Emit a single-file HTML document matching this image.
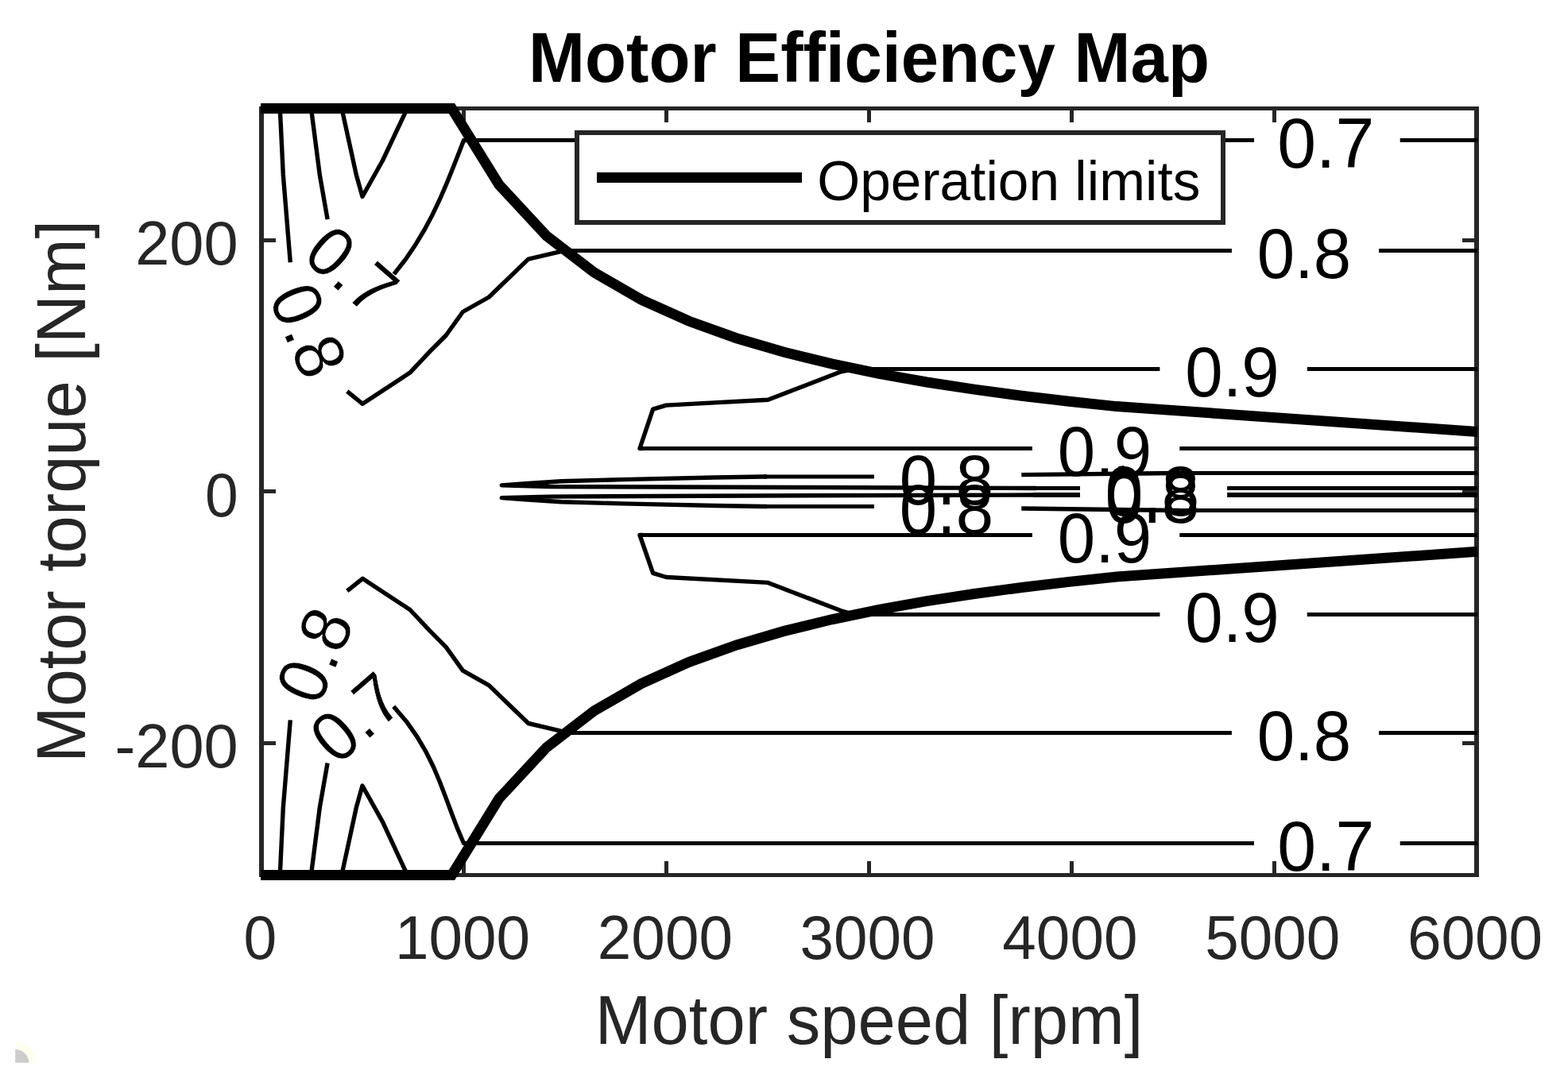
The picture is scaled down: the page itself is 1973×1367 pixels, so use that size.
<!DOCTYPE html>
<html lang="en"><head><meta charset="utf-8"><title>Motor Efficiency Map</title>
<style>html,body{margin:0;padding:0;background:#fff;}body{width:1973px;height:1367px;overflow:hidden;}svg{display:block;}text{font-family:"Liberation Sans",Arial,Helvetica,sans-serif;}</style>
</head><body>
<svg width="1973" height="1367" viewBox="0 0 1973 1367">
<rect width="1973" height="1367" fill="#fff"/>
<path d="M19.2,1311.2 A27,27 0 0 1 46.4,1337.8 L19.2,1337.8 Z" fill="#fffff0"/>
<path d="M19.2,1321 A17.5,17.5 0 0 1 36.6,1337.8 L19.2,1337.8 Z" fill="#cccccc"/>
<g shape-rendering="crispEdges">
<rect x="326" y="134" width="1535" height="5" fill="#262626"/>
<rect x="326" y="1099" width="1535" height="5" fill="#262626"/>
<rect x="326" y="134" width="6" height="970" fill="#262626"/>
<rect x="1855" y="134" width="6" height="970" fill="#262626"/>
<rect x="581" y="134" width="5" height="20" fill="#262626"/>
<rect x="581" y="1084" width="5" height="20" fill="#262626"/>
<rect x="836" y="134" width="5" height="20" fill="#262626"/>
<rect x="836" y="1084" width="5" height="20" fill="#262626"/>
<rect x="1091" y="134" width="5" height="20" fill="#262626"/>
<rect x="1091" y="1084" width="5" height="20" fill="#262626"/>
<rect x="1346" y="134" width="5" height="20" fill="#262626"/>
<rect x="1346" y="1084" width="5" height="20" fill="#262626"/>
<rect x="1601" y="134" width="5" height="20" fill="#262626"/>
<rect x="1601" y="1084" width="5" height="20" fill="#262626"/>
<rect x="326" y="300" width="21" height="5" fill="#262626"/>
<rect x="1840" y="300" width="21" height="5" fill="#262626"/>
<rect x="326" y="616" width="21" height="5" fill="#262626"/>
<rect x="1840" y="616" width="21" height="5" fill="#262626"/>
<rect x="326" y="933" width="21" height="5" fill="#262626"/>
<rect x="1840" y="933" width="21" height="5" fill="#262626"/>
</g>
<g fill="#000" font-size="88.5">
<text transform="translate(422.6,363.3) rotate(41.0) scale(0.95,1)" text-anchor="start" x="-62.0 -12.3 12.8" y="0" stroke="#fff" stroke-width="0.5">0.7</text>
<text transform="translate(360.1,427.7) rotate(67.0) scale(0.95,1)" text-anchor="start" x="-62.0 -12.3 12.8" y="0" stroke="#fff" stroke-width="0.5">0.8</text>
<text transform="translate(468.3,926.4) rotate(-41.0) scale(0.95,1)" text-anchor="start" x="-62.0 -12.3 12.8" y="0" stroke="#fff" stroke-width="0.5">0.7</text>
<text transform="translate(424.0,836.6) rotate(-67.0) scale(0.95,1)" text-anchor="start" x="-62.0 -12.3 12.8" y="0" stroke="#fff" stroke-width="0.5">0.8</text>
</g>
<g fill="none" stroke="#000" stroke-width="5.4" stroke-linejoin="round" stroke-linecap="butt">
<polyline points="352.3,136.3 356.3,220.0 365.3,330.2"/>
<polyline points="391.5,136.3 402.3,220.0 412.1,276.1"/>
<polyline points="430.0,136.3 448.3,220.0 456.0,247.5 481.5,202.0 512.5,136.3"/>
<polyline points="495.7,345.2 510.3,326.5 523.0,307.7 534.2,289.0 544.2,270.2 553.1,251.5 561.3,232.7 568.9,214.0 576.3,195.2 583.6,176.5 587.6,176.5"/>
<polyline points="436.8,492.7 456.2,508.3 515.9,469.1 541.2,442.2 561.3,422.0 582.4,392.5 615.2,374.0 664.8,326.1 704.4,316.8 712.0,315.5 716.0,315.5"/>
<polyline points="809.0,564.5 805.0,564.5 821.6,515.2 838.2,510.1 966.3,503.2 1058.4,467.8 1075.0,464.5 1079.0,464.5"/>
<polyline points="965.0,600.0 961.0,600.0 900.0,601.0 782.5,603.6 706.4,605.8 660.8,608.8 631.2,610.9 691.0,612.5 1000.0,613.5 1300.0,614.5 1304.0,614.5"/>
<polyline points="1285.3,597.6 1480.0,595.5 1484.0,595.5"/>
<polyline points="352.3,1101.2 356.3,1016.6 365.3,906.4"/>
<polyline points="391.5,1101.2 402.3,1016.6 412.1,960.5"/>
<polyline points="430.0,1101.2 448.3,1016.6 456.0,989.1 481.5,1034.6 512.5,1101.2"/>
<polyline points="436.8,743.9 456.2,728.3 515.9,767.5 541.2,794.4 561.3,814.6 582.4,844.1 615.2,862.6 664.8,910.5 704.4,919.8 712.0,922.5 716.0,922.5"/>
<polyline points="809.0,673.5 805.0,673.5 821.6,721.4 838.2,726.5 966.3,733.4 1058.4,768.8 1075.0,773.5 1079.0,773.5"/>
<polyline points="495.2,889.3 511.6,908.4 525.0,927.6 536.2,946.7 545.6,965.8 553.7,985.0 561.0,1004.1 568.1,1023.2 575.4,1042.4 583.5,1061.5 587.5,1061.5"/>
<polyline points="965.0,637.5 961.0,637.5 900.0,636.5 782.5,633.9 706.4,631.7 660.8,628.7 631.2,626.6 691.0,625.1 945.0,624.0 1300.0,623.0 1304.0,623.0"/>
<polyline points="1285.3,640.0 1480.0,642.5 1484.0,642.5"/>
</g>
<g fill="none" stroke="#000" stroke-linecap="butt">
<line x1="583.6" y1="176.5" x2="1578.0" y2="176.5" stroke-width="5.0"/>
<line x1="1761.7" y1="176.5" x2="1859.0" y2="176.5" stroke-width="5.0"/>
<line x1="712.0" y1="315.5" x2="1549.9" y2="315.5" stroke-width="5.0"/>
<line x1="1735.1" y1="315.5" x2="1859.0" y2="315.5" stroke-width="5.0"/>
<line x1="1298.9" y1="564.5" x2="805.0" y2="564.5" stroke-width="5.0"/>
<line x1="1075.0" y1="464.5" x2="1459.4" y2="464.5" stroke-width="5.0"/>
<line x1="1644.8" y1="464.5" x2="1859.0" y2="464.5" stroke-width="5.0"/>
<line x1="1484.3" y1="564.5" x2="1859.0" y2="564.5" stroke-width="5.0"/>
<line x1="1099.9" y1="600.0" x2="961.0" y2="600.0" stroke-width="5.0"/>
<line x1="1300.0" y1="614.5" x2="1359.0" y2="614.5" stroke-width="5.0"/>
<line x1="1480.0" y1="595.5" x2="1859.0" y2="595.5" stroke-width="5.0"/>
<line x1="1544.1" y1="614.5" x2="1859.0" y2="614.5" stroke-width="5.0"/>
<line x1="1761.7" y1="1061.5" x2="1859.0" y2="1061.5" stroke-width="5.0"/>
<line x1="712.0" y1="922.5" x2="1549.9" y2="922.5" stroke-width="5.0"/>
<line x1="1735.1" y1="922.5" x2="1859.0" y2="922.5" stroke-width="5.0"/>
<line x1="1298.9" y1="673.5" x2="805.0" y2="673.5" stroke-width="5.0"/>
<line x1="1075.0" y1="773.5" x2="1459.4" y2="773.5" stroke-width="5.0"/>
<line x1="1644.8" y1="773.5" x2="1859.0" y2="773.5" stroke-width="5.0"/>
<line x1="1484.3" y1="673.5" x2="1859.0" y2="673.5" stroke-width="5.0"/>
<line x1="583.5" y1="1061.5" x2="1578.0" y2="1061.5" stroke-width="5.0"/>
<line x1="1099.9" y1="637.5" x2="961.0" y2="637.5" stroke-width="5.0"/>
<line x1="1300.0" y1="623.0" x2="1359.0" y2="623.0" stroke-width="6.0"/>
<line x1="1480.0" y1="642.5" x2="1859.0" y2="642.5" stroke-width="5.0"/>
<line x1="1544.1" y1="623.0" x2="1859.0" y2="623.0" stroke-width="6.0"/>
</g>
<g fill="none" stroke="#000" stroke-width="13.0" stroke-linejoin="miter" stroke-linecap="butt">
<polyline points="328.0,136.5 568.5,136.5 627.9,232.5 687.7,296.9 747.5,342.9 807.3,377.4 867.1,404.3 926.8,425.7 986.6,443.3 1046.4,457.9 1106.2,470.3 1166.0,481.0 1225.8,490.2 1285.5,498.2 1345.3,505.3 1405.1,511.6 1859.0,543.5"/>
<polyline points="328.0,1101.5 568.5,1101.5 627.9,1005.2 687.7,940.8 747.5,894.8 807.3,860.3 867.1,833.4 926.8,812.0 986.6,794.4 1046.4,779.8 1106.2,767.4 1166.0,756.7 1225.8,747.5 1285.5,739.5 1345.3,732.4 1405.1,726.1 1859.0,694.2"/>
</g>
<g fill="#000" font-size="88.5" text-anchor="middle">
<text x="1668.3" y="211.2" textLength="122.0" lengthAdjust="spacingAndGlyphs">0.7</text>
<text x="1640.9" y="350.2" textLength="118.5" lengthAdjust="spacingAndGlyphs">0.8</text>
<text x="1550.5" y="499.2" textLength="118.5" lengthAdjust="spacingAndGlyphs">0.9</text>
<text x="1390.0" y="599.2" textLength="118.5" lengthAdjust="spacingAndGlyphs">0.9</text>
<text x="1190.9" y="634.7" textLength="118.5" lengthAdjust="spacingAndGlyphs">0.8</text>
<text x="1449.9" y="649.2" textLength="118.5" lengthAdjust="spacingAndGlyphs">0.8</text>
<text x="1449.9" y="657.9" textLength="118.5" lengthAdjust="spacingAndGlyphs">0.8</text>
<text x="1190.9" y="672.4" textLength="118.5" lengthAdjust="spacingAndGlyphs">0.8</text>
<text x="1390.0" y="708.2" textLength="118.5" lengthAdjust="spacingAndGlyphs">0.9</text>
<text x="1550.5" y="808.2" textLength="118.5" lengthAdjust="spacingAndGlyphs">0.9</text>
<text x="1640.9" y="957.2" textLength="118.5" lengthAdjust="spacingAndGlyphs">0.8</text>
<text x="1668.3" y="1096.2" textLength="122.0" lengthAdjust="spacingAndGlyphs">0.7</text>
</g>
<g fill="#262626" font-size="77.5">
<text x="327.3" y="1207.0" text-anchor="middle" textLength="41.7" lengthAdjust="spacingAndGlyphs">0</text>
<text x="582.1" y="1207.0" text-anchor="middle" textLength="170.1" lengthAdjust="spacingAndGlyphs">1000</text>
<text x="836.9" y="1207.0" text-anchor="middle" textLength="170.1" lengthAdjust="spacingAndGlyphs">2000</text>
<text x="1091.6" y="1207.0" text-anchor="middle" textLength="170.1" lengthAdjust="spacingAndGlyphs">3000</text>
<text x="1346.4" y="1207.0" text-anchor="middle" textLength="170.1" lengthAdjust="spacingAndGlyphs">4000</text>
<text x="1601.2" y="1207.0" text-anchor="middle" textLength="170.1" lengthAdjust="spacingAndGlyphs">5000</text>
<text x="1856.0" y="1207.0" text-anchor="middle" textLength="170.1" lengthAdjust="spacingAndGlyphs">6000</text>
<text x="299.7" y="333.0" text-anchor="end" textLength="129.5" lengthAdjust="spacingAndGlyphs">200</text>
<text x="299.7" y="650.4" text-anchor="end" textLength="41.7" lengthAdjust="spacingAndGlyphs">0</text>
<text x="299.7" y="965.8" text-anchor="end" textLength="155.3" lengthAdjust="spacingAndGlyphs">-200</text>
</g>
<text x="1093.6" y="1314.0" font-size="87" fill="#262626" text-anchor="middle" textLength="689.7" lengthAdjust="spacingAndGlyphs">Motor speed [rpm]</text>
<text transform="translate(107.0,618.4) rotate(-90)" font-size="87" fill="#262626" text-anchor="middle" textLength="683.0" lengthAdjust="spacingAndGlyphs">Motor torque [Nm]</text>
<text x="1093.5" y="103.0" font-size="89" font-weight="bold" fill="#000" text-anchor="middle" textLength="857.0" lengthAdjust="spacingAndGlyphs">Motor Efficiency Map</text>
<g shape-rendering="crispEdges">
<rect x="723" y="164" width="819" height="119" fill="#262626"/>
<rect x="729" y="170" width="807" height="107" fill="#fff"/>
<rect x="751" y="217" width="258" height="13" fill="#000"/>
</g>
<text x="1028.2" y="251.5" font-size="70.0" fill="#000" textLength="482.2" lengthAdjust="spacingAndGlyphs">Operation limits</text>
</svg>
</body></html>
